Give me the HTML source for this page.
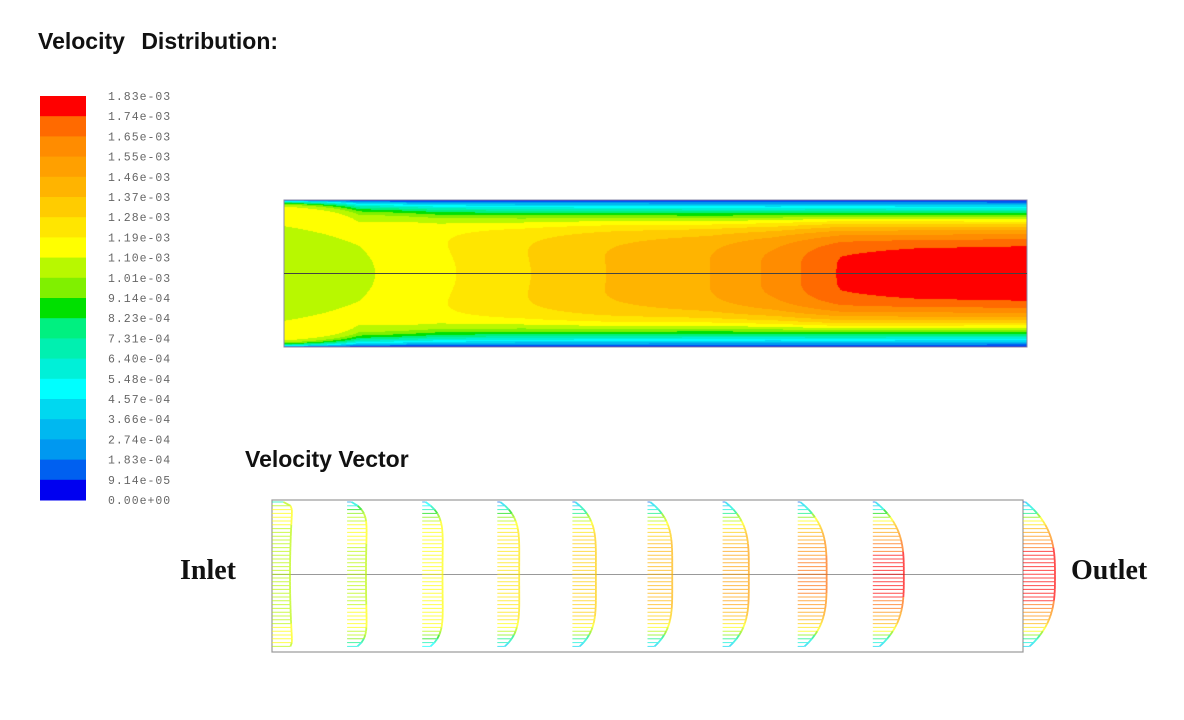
<!DOCTYPE html>
<html><head><meta charset="utf-8">
<style>
html,body{margin:0;padding:0;background:#fff;width:1184px;height:720px;overflow:hidden}
.t{position:absolute;font-family:"Liberation Sans",Arial,sans-serif;font-weight:bold;color:#111}
.s{position:absolute;font-family:"Liberation Serif",serif;font-weight:bold;color:#111}
#cb{position:absolute;left:0;top:0}
</style></head><body>
<div class="t" style="left:38px;top:28px;font-size:23px;word-spacing:10px">Velocity Distribution:</div>
<div class="t" style="left:245px;top:446px;font-size:23px">Velocity Vector</div>
<div class="s" style="left:180px;top:555px;font-size:28px">Inlet</div>
<div class="s" style="left:1071px;top:555px;font-size:28px">Outlet</div>
<svg id="cb" width="1184" height="720"></svg>
<canvas id="cv" width="743" height="147" style="position:absolute;left:284px;top:200px"></canvas>
<svg id="ov" width="1184" height="720" style="position:absolute;left:0;top:0"></svg>
<script>
const tickLabels=["1.83e-03","1.74e-03","1.65e-03","1.55e-03","1.46e-03","1.37e-03","1.28e-03","1.19e-03","1.10e-03","1.01e-03","9.14e-04","8.23e-04","7.31e-04","6.40e-04","5.48e-04","4.57e-04","3.66e-04","2.74e-04","1.83e-04","9.14e-05","0.00e+00"];
// bottom (index 0) to top (index 19)
const bandColors=["#0000f0","#0060f0","#0098f0","#00b8f0","#00d8f0","#00ffff","#00f0d8","#00f0b0","#00f080","#00e000","#80f000","#b8f800","#ffff00","#ffe600","#ffcc00","#ffb400","#ffa000","#ff8c00","#ff6a00","#ff0000"];
const vmax=1.83e-3;
// centerline velocity (x1e-3) and profile bluntness at axial fractions
const axPos=[0,0.1,0.21,0.32,0.43,0.57,0.66,0.75,0.85,1.0];
const axUc=[1.03,1.08,1.17,1.27,1.37,1.46,1.58,1.75,1.80,1.83];
const axN=[30,9,6,5,4.5,4,3.6,3.3,3.1,3.0];
// vector stations
const stations=[0,0.1,0.2,0.3,0.4,0.5,0.6,0.7,0.8,1.0];

const NS="http://www.w3.org/2000/svg";
function mk(par,tag,at){const e=document.createElementNS(NS,tag);for(const k in at)e.setAttribute(k,at[k]);par.appendChild(e);return e;}
function interp(arr,x){for(let i=1;i<axPos.length;i++){if(x<=axPos[i]){const f=(x-axPos[i-1])/(axPos[i]-axPos[i-1]);return arr[i-1]+f*(arr[i]-arr[i-1]);}}return arr[arr.length-1];}
function vel(x,eta){const uc=interp(axUc,x)*1e-3,n=interp(axN,x);const a=Math.abs(eta);
 const bump=1+0.16*Math.exp(-x*3)*a*a;return Math.max(0,uc*(1-Math.pow(a,n))*bump);}
function band(u){let b=Math.floor(u/vmax*20);return Math.max(0,Math.min(19,b));}
const cb=document.getElementById('cb');
const cbX=40,cbY=96,cbW=46,cbH=404,nb=20;
for(let i=0;i<nb;i++){const r=mk(cb,'rect',{x:cbX,y:cbY+i*cbH/nb,width:cbW,height:cbH/nb+0.5,fill:bandColors[19-i]});

}
tickLabels.forEach((l,i)=>{const t=mk(cb,'text',{x:108,y:cbY+4+i*cbH/nb,'font-family':'Liberation Mono,monospace','font-size':11.5,'letter-spacing':1,fill:'#666'});t.textContent=l;

});
const cv=document.getElementById('cv'),ctx=cv.getContext('2d');const W=cv.width,H=cv.height;
for(let px=0;px<W;px++){const x=px/(W-1);for(let py=0;py<H;py++){const eta=(py+0.5)/H*2-1;ctx.fillStyle=bandColors[band(vel(x,eta))];ctx.fillRect(px,py,1,1);}}
const ov=document.getElementById('ov');
mk(ov,'rect',{x:284,y:200,width:743,height:147,fill:'none',stroke:'#8888aa','stroke-width':1});
const cl=mk(ov,'line',{x1:284,y1:273.5,x2:1027,y2:273.5,stroke:'#444','stroke-width':1});


const vx0=272,vx1=1023,vy0=500,vy1=652;
const box=mk(ov,'rect',{x:vx0,y:vy0,width:vx1-vx0,height:vy1-vy0,fill:'none',stroke:'#999','stroke-width':1.2});


mk(ov,'line',{x1:vx0,y1:574.5,x2:vx1,y2:574.5,stroke:'#999','stroke-width':1});
const scale=32/vmax;
stations.forEach(s=>{const sx=vx0+s*(vx1-vx0);const g=mk(ov,'g',{opacity:0.7});


const pts=[];
for(let y=vy0+2;y<=vy1-2;y+=3.8){const eta=(y-vy0)/(vy1-vy0)*2-1;const u=vel(s,eta);const len=u*scale;const c=bandColors[band(u)];
mk(g,'line',{x1:sx,y1:y,x2:sx+len,y2:y,stroke:c,'stroke-width':1});pts.push([sx+len,y,c]);}
for(let i=1;i<pts.length;i++)mk(g,'line',{x1:pts[i-1][0],y1:pts[i-1][1],x2:pts[i][0],y2:pts[i][1],stroke:pts[i][2],'stroke-width':1.8});
});
</script>
</body></html>
